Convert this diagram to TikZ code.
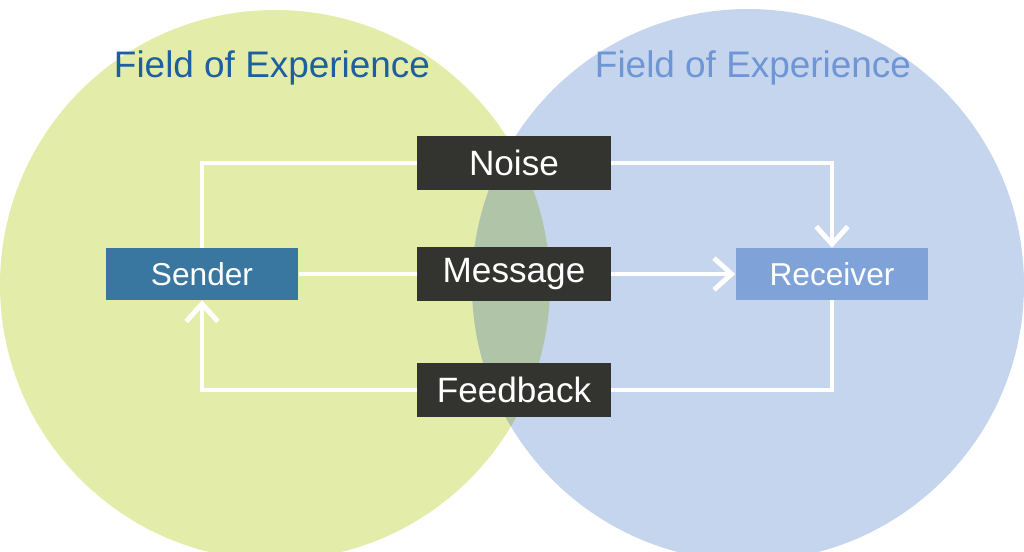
\documentclass[tikz,border=0pt]{standalone}
\usepackage{fontspec}
\setmainfont{Liberation Sans}
\usetikzlibrary{arrows.meta}
\definecolor{fieldL}{HTML}{E4ECAA}
\definecolor{fieldR}{HTML}{C6D5EE}
\definecolor{fieldM}{HTML}{B0C4A8}
\definecolor{sendC}{HTML}{3A77A0}
\definecolor{recvC}{HTML}{7FA3D9}
\definecolor{darkC}{HTML}{333330}
\definecolor{titleL}{HTML}{1E5FA0}
\definecolor{titleR}{HTML}{6E95D5}
\begin{document}
\begin{tikzpicture}[x=0.01cm,y=-0.01cm,
    party/.style={minimum width=1.92cm,minimum height=0.51cm,inner sep=0pt,
        text=white,font=\fontsize{9}{10}\selectfont},
    channel/.style={fill=darkC,minimum width=1.93cm,minimum height=0.53cm,
        inner sep=0pt,text=white,font=\fontsize{10}{12}\selectfont},
    title/.style={font=\fontsize{10.5}{12}\selectfont},
    link/.style={white,line width=1.4pt,line join=miter}]
    \useasboundingbox (0,0) rectangle (1024,551);
    \clip (0,0) rectangle (1024,551);
    % fields of experience
    \fill[fieldL] (275,285) circle (275);
    \fill[fieldR] (748,285) circle (276);
    \begin{scope}
        \clip (275,285) circle (275);
        \fill[fieldM] (748,285) circle (276);
    \end{scope}
    \node[title,text=titleL] (fl) at (272,68) {Field of Experience};
    \node[title,text=titleR] (fr) at (753,68) {Field of Experience};
    % parties
    \node[party,fill=sendC] (send) at (202,274) {Sender};
    \node[party,fill=recvC] (recv) at (832,274) {Receiver};
    % channels
    \node[channel] (noise) at (514,163) {Noise};
    \node[channel] (msg) at (514,274) {Message};
    \node[channel] (fb) at (514,390) {Feedback};
    % connectors
    \draw[link] (send.north) |- (noise.west);
    \draw[link,-{Straight Barb[length=5pt,width=9pt]}] (noise.east) -| (recv.north);
    \draw[link] (send.east) -- (msg.west);
    \draw[link,-{Straight Barb[length=5pt,width=9pt]}] (msg.east) -- (recv.west);
    \draw[link] (recv.south) |- (fb.east);
    \draw[link,-{Straight Barb[length=5pt,width=9pt]}] (fb.west) -| (send.south);
\end{tikzpicture}
\end{document}
